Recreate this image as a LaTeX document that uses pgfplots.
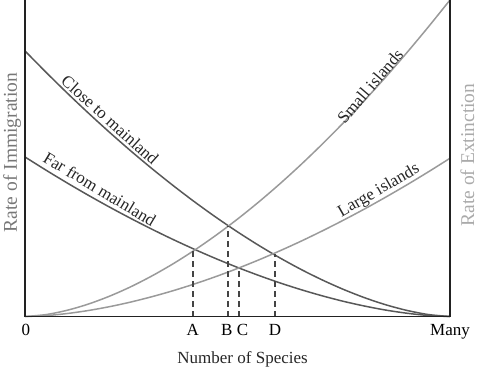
\documentclass[border=0pt]{standalone}
\usepackage{fontspec}
\setmainfont{Liberation Serif}
\usepackage{pgfplots}
\pgfplotsset{compat=1.18}
\definecolor{darkc}{HTML}{585858}
\definecolor{lightc}{HTML}{9A9A9A}
\definecolor{dashc}{HTML}{444444}
\definecolor{axc}{HTML}{222222}
\definecolor{immc}{HTML}{777777}
\definecolor{extc}{HTML}{AAAAAA}
\begin{document}
\begin{tikzpicture}[font=\fontsize{17}{20}\selectfont]
\path[use as bounding box] (-25pt,-52.5pt) rectangle (453pt,316.5pt);
\begin{axis}[at={(0,0)}, anchor=south west, scale only axis,
  width=425pt, height=316.5pt,
  xmin=0, xmax=1, ymin=0, ymax=1,
  axis line style={draw=none},
  ytick=\empty,
  xtick={0.002,0.395,0.475,0.512,0.588,1},
  xticklabels={0,A,B,C,D,Many},
  major tick length=0pt,
  xticklabel style={anchor=base, yshift=-18.5pt, text=black},
  clip=false]
% Close to mainland
\addplot[darkc, line width=1.5pt, smooth] coordinates {
(0,0.839)(0.05,0.7710)(0.1,0.7051)(0.15,0.6417)(0.2,0.5806)(0.25,0.5219)(0.3,0.4658)(0.35,0.4122)(0.4,0.3612)(0.45,0.3129)(0.5,0.2674)(0.55,0.2247)(0.6,0.1850)(0.65,0.1484)(0.7,0.1151)(0.75,0.0852)(0.8,0.0589)(0.85,0.0366)(0.9,0.0188)(0.95,0.0060)(1,0)};
% Far from mainland
\addplot[darkc, line width=1.5pt, smooth] coordinates {
(0,0.504)(0.05,0.4619)(0.1,0.4213)(0.15,0.3823)(0.2,0.3449)(0.25,0.3091)(0.3,0.2749)(0.35,0.2423)(0.4,0.2115)(0.45,0.1824)(0.5,0.1551)(0.55,0.1297)(0.6,0.1061)(0.65,0.0846)(0.7,0.0651)(0.75,0.0477)(0.8,0.0327)(0.85,0.0200)(0.9,0.0101)(0.95,0.0031)(1,0)};
% Small islands
\addplot[lightc, line width=1.5pt, smooth] coordinates {
(0,0)(0.05,0.00614)(0.1,0.01995)(0.15,0.0397)(0.2,0.0648)(0.25,0.0947)(0.3,0.1292)(0.35,0.1678)(0.4,0.2106)(0.45,0.2573)(0.5,0.3078)(0.55,0.3619)(0.6,0.4196)(0.65,0.4808)(0.7,0.5454)(0.75,0.6132)(0.8,0.6843)(0.85,0.7586)(0.9,0.8360)(0.95,0.9165)(1,1)};
% Large islands
\addplot[lightc, line width=1.5pt, smooth] coordinates {
(0,0)(0.05,0.00289)(0.1,0.00953)(0.15,0.01914)(0.2,0.03137)(0.25,0.04606)(0.3,0.06306)(0.35,0.08216)(0.4,0.1034)(0.45,0.1266)(0.5,0.1518)(0.55,0.1788)(0.6,0.2077)(0.65,0.2383)(0.7,0.2708)(0.75,0.3049)(0.8,0.3406)(0.85,0.3781)(0.9,0.4171)(0.95,0.4578)(1,0.5)};
% dashed drops
\addplot[dashc, line width=1.5pt, dash pattern=on 6pt off 4pt] coordinates {(0.395,0)(0.395,0.21)};
\addplot[dashc, line width=1.5pt, dash pattern=on 6pt off 4pt] coordinates {(0.478,0)(0.478,0.285)};
\addplot[dashc, line width=1.5pt, dash pattern=on 6pt off 4pt] coordinates {(0.503,0)(0.503,0.1535)};
\addplot[dashc, line width=1.5pt, dash pattern=on 6pt off 4pt] coordinates {(0.588,0)(0.588,0.197)};
% axis frame (no top)
\draw[axc, line width=1.6pt] (rel axis cs:0,1) -- (rel axis cs:0,0) -- (rel axis cs:1,0) -- (rel axis cs:1,1);
% curve labels
\node[rotate=-42, text=black!85] at (axis cs:0.2,0.621) {Close to mainland};
\node[rotate=-31, text=black!85] at (axis cs:0.176,0.403) {Far from mainland};
\node[rotate=49.5, text=black!85] at (axis cs:0.812,0.728) {Small islands};
\node[rotate=30, text=black!85] at (axis cs:0.833,0.397) {Large islands};
% axis titles
\node[anchor=base, text=black!85] at ([yshift=-46.5pt]rel axis cs:0.512,0) {Number of Species};
\node[rotate=90, anchor=base, text=immc, font=\fontsize{19.5}{22}\selectfont] at ([xshift=-8pt]rel axis cs:0,0.518) {Rate of Immigration};
\node[rotate=90, anchor=base, text=extc, font=\fontsize{19.5}{22}\selectfont, inner sep=0pt] at ([xshift=24pt]rel axis cs:1,0.51) {Rate of Extinction};
\end{axis}
\end{tikzpicture}
\end{document}
